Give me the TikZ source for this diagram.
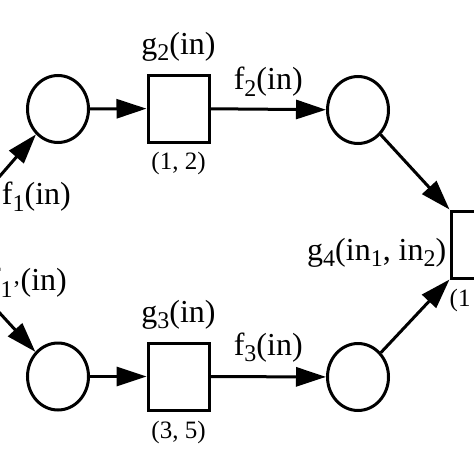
\documentclass[tikz,border=0pt]{standalone}
\usepackage{fontspec}
\setmainfont{Liberation Serif}
\usepackage{tikz}
\usetikzlibrary{arrows.meta}
\usetikzlibrary{positioning}
\usetikzlibrary{shapes.geometric}
\tikzset{>={Triangle[length=30pt,width=19pt]}}
\newcommand{\lsub}[1]{\raisebox{-0.2em}{\fontsize{24}{24}\selectfont #1}}

\begin{document}
\begin{tikzpicture}[
        x=1pt,y=-1pt,
        font=\fontsize{32}{36}\selectfont,
        place/.style={ellipse,draw,line width=3pt,minimum width=61pt,minimum height=67pt,inner sep=0pt},
        trans/.style={rectangle,draw,line width=3pt,minimum width=61pt,minimum height=67pt,inner sep=0pt},
        tag/.style={font=\fontsize{25}{28}\selectfont,inner sep=0pt},
        every label/.style={inner sep=0pt},
        flow/.style={line width=3pt,->}
    ]
    \useasboundingbox (0,0) rectangle (474,474);
    \clip (0,0) rectangle (474,474);

    \node[place] (p1) at (58,109) {};
    \node[trans,label={[label distance=12pt]above:{g\lsub{2}(in)}},
        label={[tag,label distance=8pt]below:{(1, 2)}}] (g2) at (178.5,108.5) {};
    \node[place] (p2) at (358,110) {};

    \node[place] (p3) at (58,376.5) {};
    \node[trans,label={[label distance=12pt]above:{g\lsub{3}(in)}},
        label={[tag,label distance=9pt]below:{(3, 5)}}] (g3) at (178.5,376.5) {};
    \node[place] (p4) at (358,377) {};

    \node[trans,label={[label distance=3pt,yshift=-8pt]left:{g\lsub{4}(in\lsub{1}, in\lsub{2})}}] (g4) at (481.5,244.5) {};
    \node[tag,anchor=north west] (c4) at ([yshift=-9pt]g4.south west) {(1};

    % inputs coming in from the left
    \coordinate (s1) at (-20,199);
    \coordinate (s3) at (-20,291.5);
    \node[inner sep=0pt,anchor=east] (l1) at (71,197) {f\lsub{1}(in)};
    \node[inner sep=0pt,anchor=east] (l1p) at (67,283) {f\lsub{1'}(in)};

    \draw[flow] (s1) -- (p1);
    \draw[flow] (p1) -- (g2);
    \draw[flow] (g2) -- node[above=11pt,inner sep=0pt] (l2) {f\lsub{2}(in)} (p2);
    \draw[flow] (p2) -- (g4.north west);

    \draw[flow] (s3) -- (p3);
    \draw[flow] (p3) -- (g3);
    \draw[flow] (g3) -- node[above=13pt,inner sep=0pt] (l3) {f\lsub{3}(in)} (p4);
    \draw[flow] (p4) -- (g4.south west);
\end{tikzpicture}
\end{document}
